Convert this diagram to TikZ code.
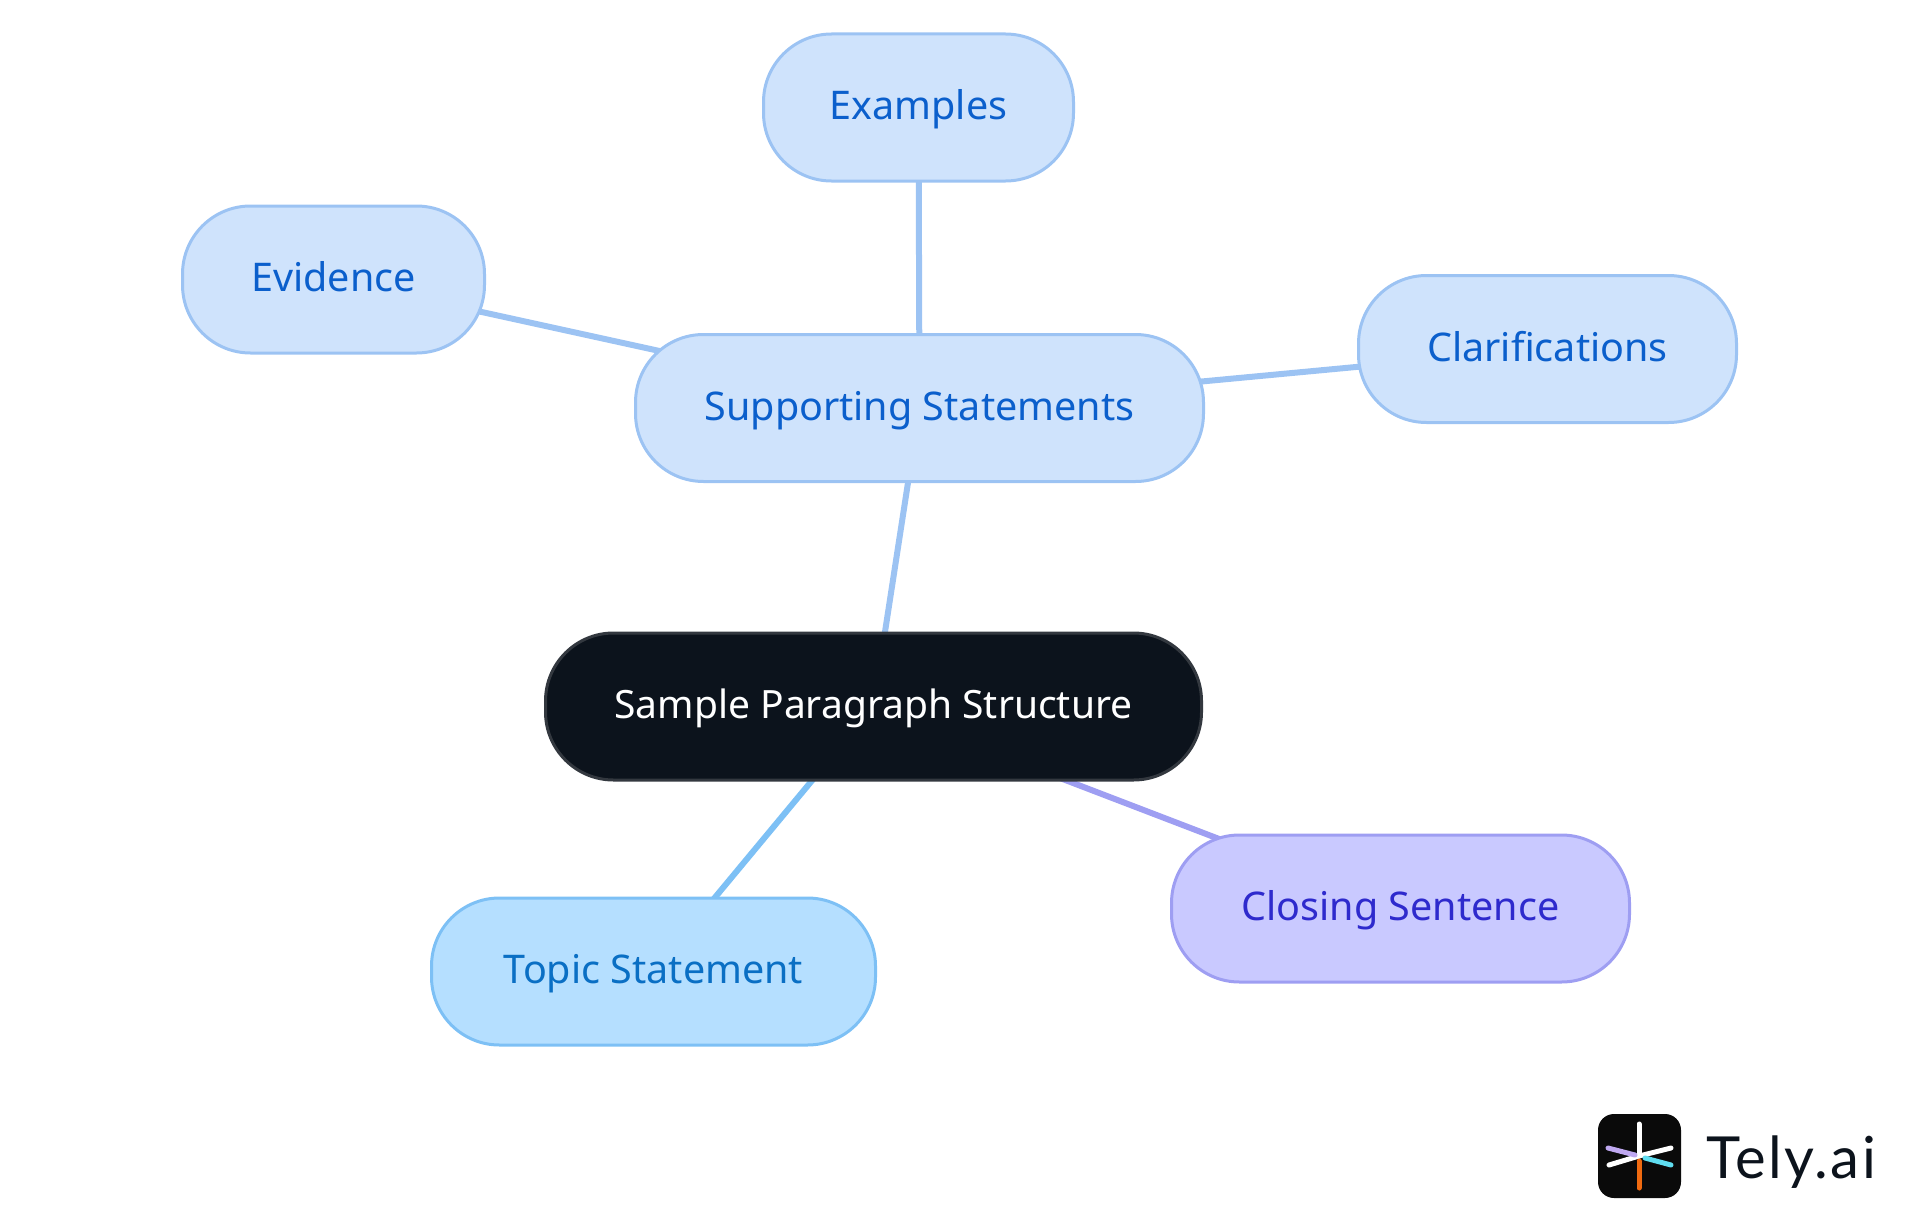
\documentclass[tikz,border=0pt]{standalone}
\usepackage{fontspec}
\setmainfont{Noto Sans}
\newfontfamily\logofont{Lato}[LetterSpace=4]
\usetikzlibrary{backgrounds}
\definecolor{supfill}{HTML}{CFE3FC}
\definecolor{supline}{HTML}{9CC3F3}
\definecolor{suptext}{HTML}{0B5FCC}
\definecolor{topfill}{HTML}{B5DFFF}
\definecolor{topline}{HTML}{7DC0F5}
\definecolor{toptext}{HTML}{0A6FC4}
\definecolor{closefill}{HTML}{C9C9FF}
\definecolor{closeline}{HTML}{9E9EF2}
\definecolor{closetext}{HTML}{2E2ACD}
\definecolor{rootfill}{HTML}{0C131C}
\definecolor{rootline}{HTML}{33383F}
\definecolor{logolilac}{HTML}{BFA8F0}
\definecolor{logocyan}{HTML}{5FDDF0}
\definecolor{logoorange}{HTML}{F06A10}
\tikzset{
  mapnode/.style={rectangle,rounded corners=68pt,line width=3pt,minimum height=147pt,
    inner sep=0pt,text height=29pt,text depth=5pt,font=\fontsize{39.5}{46}\selectfont},
  supnode/.style={mapnode,fill=supfill,draw=supline,text=suptext},
  topnode/.style={mapnode,fill=topfill,draw=topline,text=toptext},
  closenode/.style={mapnode,fill=closefill,draw=closeline,text=closetext},
  rootnode/.style={mapnode,fill=rootfill,draw=rootline,text=white},
  spoke/.style={line width=5pt,line cap=round}
}
\begin{document}
\begin{tikzpicture}[x=1pt,y=-1pt]
\useasboundingbox (0,0) rectangle (1920,1215);
\node[rootnode,minimum width=656pt] (root) at (873.5,706.5) {\fontsize{39}{46}\selectfont Sample Paragraph Structure};
\node[supnode,minimum width=568pt] (support) at (919.5,408) {Supporting Statements};
\node[supnode,minimum width=310pt] (examples) at (918.5,107.5) {Examples};
\node[supnode,minimum width=302pt] (evidence) at (333.5,279.5) {Evidence};
\node[supnode,minimum width=378pt] (clarify) at (1547.5,349) {Clarifications};
\node[topnode,minimum width=444pt] (topic) at (653.5,971.5) {Topic Statement};
\node[closenode,minimum width=458pt] (closing) at (1400.5,908.5) {Closing Sentence};

\begin{scope}[on background layer]
  \foreach \X in {examples,evidence,clarify} {
    \draw[line width=6pt,color=supline] (support.center) -- (\X.center);}
  \draw[line width=6pt,color=supline] (root.center) -- (support.center);
  \draw[line width=6pt,color=topline] (root.center) -- (topic.center);
  \draw[line width=6pt,color=closeline] (root.center) -- (closing.center);
\end{scope}

% logo
\fill[color=black!96,rounded corners=16pt] (1598,1114) rectangle (1681,1198);
\draw[spoke,color=white] (1639,1156) -- (1639,1124);
\draw[spoke,color=white] (1639,1156) -- (1671,1148);
\draw[spoke,color=white] (1639,1156) -- (1609,1165);
\draw[spoke,color=logolilac] (1635,1155) -- (1608,1148);
\draw[spoke,color=logocyan] (1645,1158) -- (1671,1165);
\draw[spoke,color=logoorange] (1639,1161) -- (1639,1188);
\node[anchor=base west,inner sep=0pt,text=rootfill,font=\logofont\fontsize{58}{60}\selectfont] (logo) at (1706,1178) {Tely.ai};
\end{tikzpicture}
\end{document}
